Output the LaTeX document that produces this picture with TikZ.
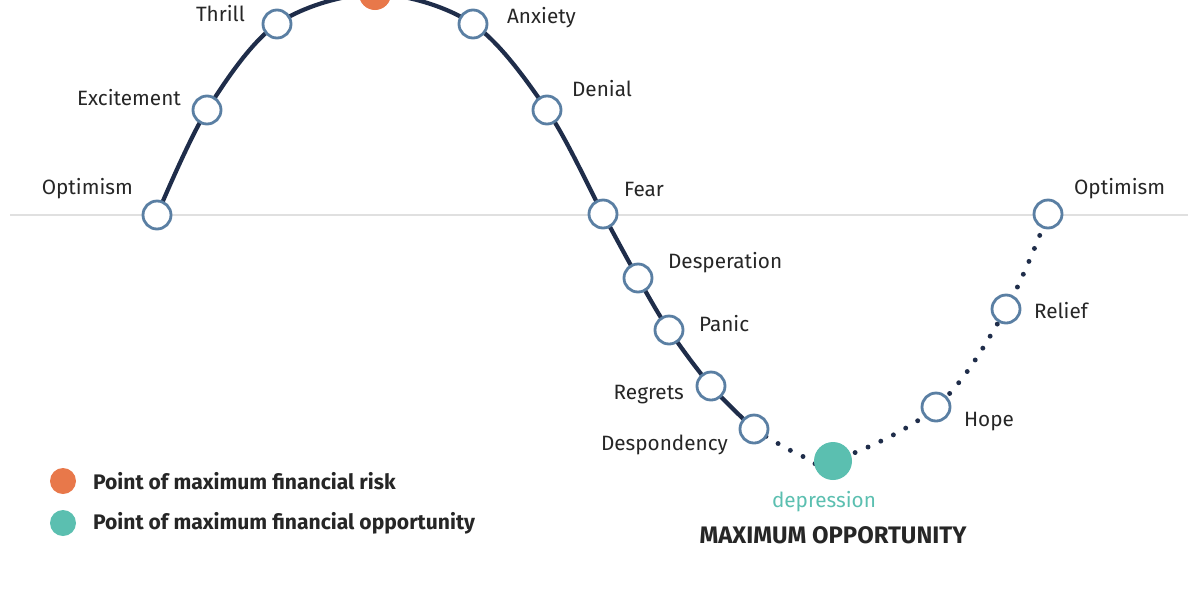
\documentclass[tikz,border=0pt]{standalone}
\usepackage{fontspec}
\setmainfont{Fira Sans}
\begin{document}
\begin{tikzpicture}[x=0.02cm,y=-0.02cm,
  st/.style={circle,draw=ring,fill=white,line width=1.6pt,minimum size=28*0.02cm,inner sep=0pt},
  lbl/.style={font=\fontsize{11.8}{13}\selectfont,text=black!85,inner sep=1pt}]
\definecolor{ring}{HTML}{5A7FA3}
\definecolor{navy}{HTML}{1F2D4A}
\definecolor{orng}{HTML}{E8784A}
\definecolor{teal}{HTML}{5BBFB0}
\useasboundingbox (0,0) rectangle (1200,600);
\clip (0,0) rectangle (1200,600);
\draw[black!12,line width=1pt] (10,215) -- (1188,215);
\coordinate (o1) at (157,215); \coordinate (ex) at (207,110); \coordinate (th) at (277,24);
\coordinate (top) at (375,-6); \coordinate (an) at (473,24); \coordinate (de) at (547,110);
\coordinate (fe) at (603,214); \coordinate (ds) at (638,278); \coordinate (pa) at (669,330);
\coordinate (re) at (711,386); \coordinate (dp) at (754,429); \coordinate (dep) at (833,461);
\coordinate (ho) at (936,407); \coordinate (rl) at (1006,309); \coordinate (o2) at (1048,214);
\draw[navy,line width=2.4pt] plot[smooth,tension=0.55] coordinates {(o1)(ex)(th)(top)(an)(de)(fe)(ds)(pa)(re)(dp)};
\draw[navy,line width=2.8pt,line cap=round,dash pattern=on 0pt off 8pt] plot[smooth,tension=0.6] coordinates {(dp)(800,455)(dep)(ho)(rl)(o2)};
\foreach \p in {o1,ex,th,an,de,fe,ds,pa,re,dp,ho,rl,o2} \node[st] (n\p) at (\p) {};
\node[circle,fill=orng,minimum size=32*0.02cm,inner sep=0pt] (ntop) at (top) {};
\node[circle,fill=teal,minimum size=38*0.02cm,inner sep=0pt] (ndep) at (dep) {};
\node[lbl,anchor=east] at (247,14) {Thrill};
\node[lbl,anchor=west] at (505,18) {Anxiety};
\node[lbl,anchor=east] at (183,98) {Excitement};
\node[lbl,anchor=west] at (570,89) {Denial};
\node[lbl,anchor=east] at (135,189) {Optimism};
\node[lbl,anchor=west] at (622,189) {Fear};
\node[lbl,anchor=west] at (666,263) {Desperation};
\node[lbl,anchor=west] at (697,324) {Panic};
\node[lbl,anchor=east] at (686,395) {Regrets};
\node[lbl,anchor=east] at (730,445) {Despondency};
\node[lbl,anchor=west] at (962,422) {Hope};
\node[lbl,anchor=west] at (1032,311) {Relief};
\node[lbl,anchor=west] at (1072,189) {Optimism};
\node[lbl,text=teal] at (824,502) {depression};
\node[lbl,font=\fontsize{13.6}{15}\selectfont\bfseries] at (833,535) {MAXIMUM OPPORTUNITY};
\node[circle,fill=orng,minimum size=26*0.02cm,inner sep=0pt] (lg1) at (63,481) {};
\node[circle,fill=teal,minimum size=26*0.02cm,inner sep=0pt] (lg2) at (63,523) {};
\node[lbl,anchor=west,font=\fontsize{12}{13}\selectfont\bfseries] at (91,481) {Point of maximum financial risk};
\node[lbl,anchor=west,font=\fontsize{12}{13}\selectfont\bfseries] at (91,523) {Point of maximum financial opportunity};
\end{tikzpicture}
\end{document}
